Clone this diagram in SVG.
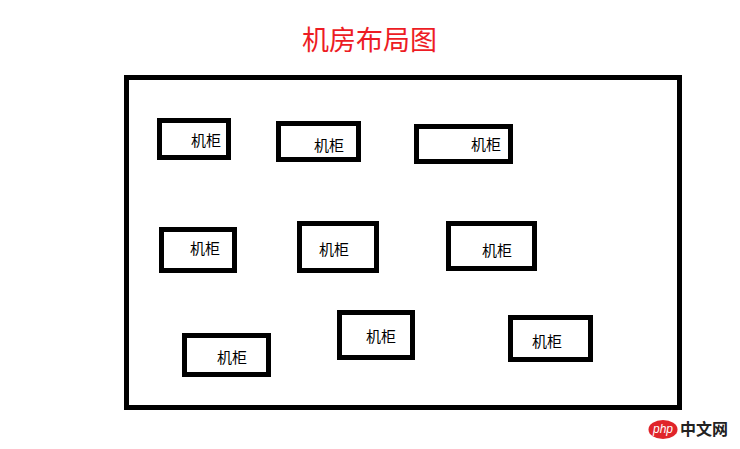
<svg xmlns="http://www.w3.org/2000/svg" width="740" height="449" viewBox="0 0 740 449">
<style>
.box{fill:#fff;stroke:#000;stroke-width:5}
.lbl{font-family:"Noto Sans CJK SC","Liberation Sans",sans-serif;font-size:15px;fill:#000}
.title{font-family:"Noto Sans CJK SC","Liberation Sans",sans-serif;font-size:27px;fill:#ed1c24}
</style>
<rect width="740" height="449" fill="#fff"/>
<text class="title" x="302" y="50">机房布局图</text>
<g id="room"><rect class="box" x="126.500" y="77.500" width="553" height="330"/></g>
<g id="cabinet1"><rect class="box" x="159.500" y="120.500" width="69" height="37"/><text class="lbl" x="191" y="146">机柜</text></g>
<g id="cabinet2"><rect class="box" x="278.500" y="123.500" width="80" height="36"/><text class="lbl" x="314" y="151">机柜</text></g>
<g id="cabinet3"><rect class="box" x="416.500" y="126.500" width="94" height="35"/><text class="lbl" x="471" y="150">机柜</text></g>
<g id="cabinet4"><rect class="box" x="161.500" y="229.500" width="73" height="41"/><text class="lbl" x="190" y="254">机柜</text></g>
<g id="cabinet5"><rect class="box" x="299.500" y="223.500" width="77" height="47"/><text class="lbl" x="319" y="255">机柜</text></g>
<g id="cabinet6"><rect class="box" x="448.500" y="223.500" width="86" height="45"/><text class="lbl" x="482" y="256">机柜</text></g>
<g id="cabinet7"><rect class="box" x="184.500" y="335.500" width="84" height="39"/><text class="lbl" x="217" y="363">机柜</text></g>
<g id="cabinet8"><rect class="box" x="339.500" y="312.500" width="73" height="45"/><text class="lbl" x="366" y="342">机柜</text></g>
<g id="cabinet9"><rect class="box" x="510.500" y="317.500" width="80" height="42"/><text class="lbl" x="532" y="347">机柜</text></g>
<g id="watermark">
<ellipse cx="663" cy="429.500" rx="14.500" ry="9.500" fill="#e0242a"/>
<text x="663" y="433" text-anchor="middle" font-family="Liberation Sans,sans-serif" font-style="italic" font-size="12" fill="#fff">php</text>
<text x="680" y="435" font-family="Noto Sans CJK SC,sans-serif" font-size="16" font-weight="700" fill="#222">中文网</text>
</g>
</svg>
